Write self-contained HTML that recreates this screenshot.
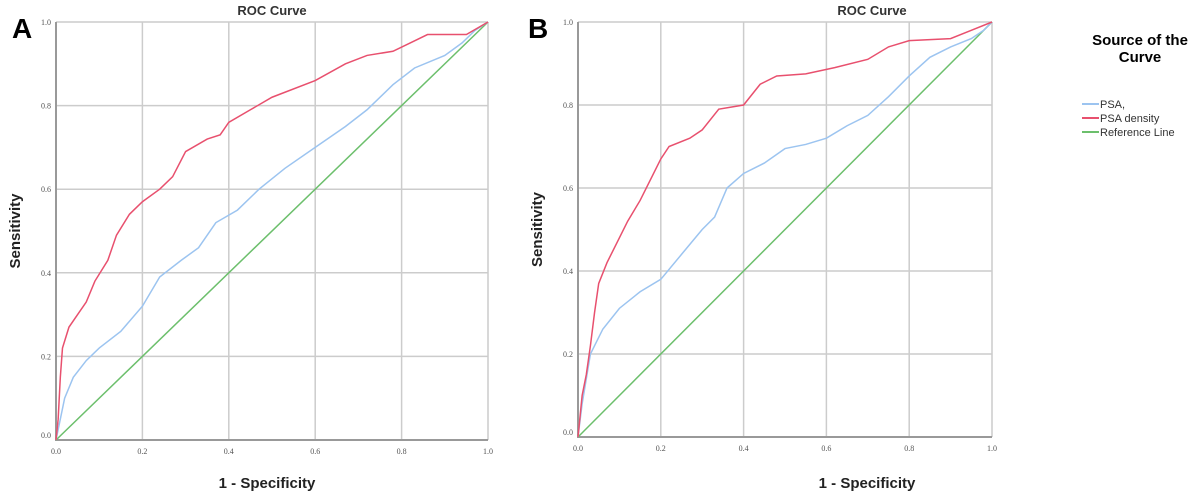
<!DOCTYPE html>
<html><head><meta charset="utf-8"><style>
body{margin:0;background:#fff;width:1200px;height:493px;overflow:hidden;font-family:"Liberation Sans",sans-serif}
</style></head><body>
<svg id="svg" width="1200" height="493" xmlns="http://www.w3.org/2000/svg">
<text x="12" y="38" font-size="28" font-weight="bold">A</text>
<text x="528" y="38" font-size="28" font-weight="bold">B</text>
<g>
<text x="1140" y="45" font-size="15" font-weight="bold" text-anchor="middle">Source of the</text>
<text x="1140" y="62" font-size="15" font-weight="bold" text-anchor="middle">Curve</text>
<g><line x1="1082" y1="104" x2="1099" y2="104" stroke="#9cc4f0" stroke-width="2"/><text x="1100" y="108" font-size="11" fill="#333">PSA,</text></g>
<g><line x1="1082" y1="118" x2="1099" y2="118" stroke="#e8506e" stroke-width="2"/><text x="1100" y="122" font-size="11" fill="#333">PSA density</text></g>
<g><line x1="1082" y1="132" x2="1099" y2="132" stroke="#6cbf6c" stroke-width="2"/><text x="1100" y="136" font-size="11" fill="#333">Reference Line</text></g>
</g>
</svg>
<script>
const ticks=[0,0.2,0.4,0.6,0.8,1.0];
const tickLabels=["0.0","0.2","0.4","0.6","0.8","1.0"];
const aPsaX=[0,0.01,0.02,0.04,0.07,0.1,0.15,0.2,0.24,0.29,0.33,0.37,0.42,0.47,0.53,0.6,0.67,0.72,0.78,0.83,0.9,0.94,0.97,1];
const aPsaY=[0,0.05,0.1,0.15,0.19,0.22,0.26,0.32,0.39,0.43,0.46,0.52,0.55,0.6,0.65,0.7,0.75,0.79,0.85,0.89,0.92,0.95,0.98,1];
const aDenX=[0,0.005,0.01,0.015,0.03,0.05,0.07,0.09,0.12,0.14,0.17,0.2,0.24,0.27,0.3,0.35,0.38,0.4,0.45,0.5,0.6,0.67,0.72,0.78,0.82,0.86,0.95,1];
const aDenY=[0,0.05,0.15,0.22,0.27,0.3,0.33,0.38,0.43,0.49,0.54,0.57,0.6,0.63,0.69,0.72,0.73,0.76,0.79,0.82,0.86,0.9,0.92,0.93,0.95,0.97,0.97,1];
const bPsaX=[0,0.01,0.03,0.06,0.1,0.15,0.2,0.25,0.3,0.33,0.36,0.4,0.45,0.5,0.55,0.6,0.65,0.7,0.75,0.8,0.85,0.9,0.95,0.98,1];
const bPsaY=[0,0.08,0.2,0.26,0.31,0.35,0.38,0.44,0.5,0.53,0.6,0.635,0.66,0.695,0.705,0.72,0.75,0.775,0.82,0.87,0.915,0.94,0.96,0.98,1];
const bDenX=[0,0.005,0.01,0.02,0.03,0.04,0.05,0.07,0.1,0.12,0.15,0.18,0.2,0.22,0.27,0.3,0.34,0.4,0.44,0.48,0.55,0.62,0.7,0.75,0.8,0.9,0.95,1];
const bDenY=[0,0.05,0.1,0.15,0.22,0.3,0.37,0.42,0.48,0.52,0.57,0.63,0.67,0.7,0.72,0.74,0.79,0.8,0.85,0.87,0.875,0.89,0.91,0.94,0.955,0.96,0.98,1];
const NS="http://www.w3.org/2000/svg",svg=document.getElementById('svg');
function mk(t,a,p){const e=document.createElementNS(NS,t);for(const k in a)e.setAttribute(k,a[k]);(p||svg).appendChild(e);return e;}
function panel(id,x0,x1,y0,y1,cx,psaX,psaY,denX,denY){
 const g=mk('g',{});
 
 
 const sx=v=>x0+v*(x1-x0),sy=v=>y0-v*(y0-y1);
 ticks.forEach((t,i)=>{
  if(i>0){const l=mk('line',{x1:sx(t),x2:sx(t),y1:y1,y2:y0,stroke:'#ccc','stroke-width':1.5},g);
   
   const h=mk('line',{x1:x0,x2:x1,y1:sy(t),y2:sy(t),stroke:'#ccc','stroke-width':1.5},g);
   }
  const xt=mk('text',{x:sx(t),y:y0+14,'font-size':8,'text-anchor':'middle',fill:'#555','font-family':'Liberation Serif,serif'},g);xt.textContent=tickLabels[i];
  
  const yt=mk('text',{x:x0-5,y:sy(t)+(i==0?-2:3),'font-size':8,'text-anchor':'end',fill:'#555','font-family':'Liberation Serif,serif'},g);yt.textContent=tickLabels[i];
  
 });
 const ax=mk('path',{d:`M${x0},${y1}V${y0}H${x1}`,stroke:'#999',fill:'none','stroke-width':2},g);
 
 const ref=mk('line',{x1:sx(0),y1:sy(0),x2:sx(1),y2:sy(1),stroke:'#6cbf6c','stroke-width':1.5},g);
 
 const p1=mk('polyline',{points:psaX.map((v,i)=>sx(v)+','+sy(psaY[i])).join(' '),fill:'none',stroke:'#9cc4f0','stroke-width':1.5},g);
 
 const p2=mk('polyline',{points:denX.map((v,i)=>sx(v)+','+sy(denY[i])).join(' '),fill:'none',stroke:'#e8506e','stroke-width':1.5},g);
 
 const t=mk('text',{x:cx,y:15,'font-size':13,'font-weight':'bold','text-anchor':'middle',fill:'#333'},g);t.textContent='ROC Curve';
 
 const xl=mk('text',{x:cx-5,y:488,'font-size':15,'font-weight':'bold','text-anchor':'middle',fill:'#222'},g);xl.textContent='1 - Specificity';
 
 const yx=x0-36,yy=(y0+y1)/2;
 const yl=mk('text',{x:yx,y:yy,'font-size':15,'font-weight':'bold','text-anchor':'middle',fill:'#222',transform:`rotate(-90 ${yx} ${yy})`},g);yl.textContent='Sensitivity';
 
}
panel('a',56,488,440,22,272,aPsaX,aPsaY,aDenX,aDenY);
panel('b',578,992,437,22,872,bPsaX,bPsaY,bDenX,bDenY);
</script>
</body></html>
